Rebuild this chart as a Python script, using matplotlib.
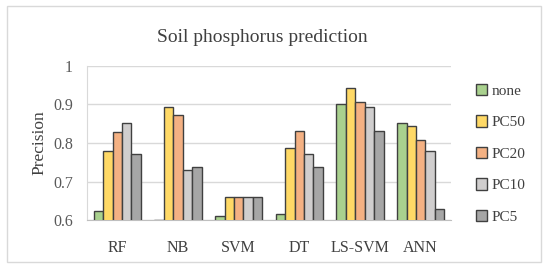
import matplotlib
matplotlib.use("Agg")
import matplotlib.pyplot as plt
import numpy as np
from matplotlib.patches import Rectangle

categories = ["RF", "NB", "SVM", "DT", "LS-SVM", "ANN"]
series_names = ["none", "PC50", "PC20", "PC10", "PC5"]
none_vals = [0.624, 0.600, 0.610, 0.616, 0.900, 0.851]
pc50_vals = [0.780, 0.893, 0.659, 0.787, 0.943, 0.844]
pc20_vals = [0.829, 0.872, 0.659, 0.830, 0.907, 0.808]
pc10_vals = [0.851, 0.730, 0.659, 0.772, 0.893, 0.780]
pc5_vals = [0.772, 0.737, 0.659, 0.737, 0.830, 0.630]
yticks = [0.6, 0.7, 0.8, 0.9, 1.0]
ytick_labels = ["0.6", "0.7", "0.8", "0.9", "1"]

colors = ["#A9D18E", "#FFD966", "#F4B183", "#D0CECE", "#A6A6A6"]
series = [none_vals, pc50_vals, pc20_vals, pc10_vals, pc5_vals]

plt.rcParams['font.family'] = ['Liberation Serif', 'DejaVu Serif']

fig = plt.figure(figsize=(5.5, 2.68), dpi=100)
fig.patches.append(Rectangle((7/550, 1-262/268), (541-7)/550, (262-6)/268,
                             transform=fig.transFigure, fill=False,
                             edgecolor="#D9D9D9", linewidth=1.0))
ax = fig.add_axes([87/550, 1-220.3/268, (451-87)/550, (220.3-65.7)/268])

x = np.arange(len(categories))
w = 0.155
for i, (vals, c, name) in enumerate(zip(series, colors, series_names)):
    ax.bar(x + (i - 2) * w, vals, width=w, color=c, edgecolor="#404040",
           linewidth=1.0, label=name, zorder=3)

ax.set_ylim(0.6, 1.0)
ax.set_xlim(-0.5, len(categories) - 0.5)
ax.set_yticks(yticks)
ax.set_yticklabels(ytick_labels, fontsize=11.5, color="#595959")
ax.set_xticks(x)
ax.set_xticklabels(categories, fontsize=11.5, color="#404040")
ax.tick_params(axis="x", length=0, pad=14)
ax.tick_params(axis="y", length=0, pad=10)
ax.yaxis.grid(True, color="#D9D9D9", linewidth=1.0, zorder=0)
ax.set_axisbelow(True)
for s in ["top", "right"]:
    ax.spines[s].set_visible(False)
ax.spines["left"].set_color("#D9D9D9")
ax.spines["bottom"].set_color("#BFBFBF")
ax.set_ylabel("Precision", fontsize=12.5, color="#404040", labelpad=4)

fig.text(0.477, 1 - 37/268, "Soil phosphorus prediction", ha="center", va="center",
         fontsize=14, color="#404040")

leg = ax.legend(loc="center left", bbox_to_anchor=(1.03, 0.43), frameon=False,
                fontsize=11, handlelength=0.75, handleheight=0.75,
                handletextpad=0.3, labelspacing=1.15, labelcolor="#404040")

fig.savefig("out.png", dpi=100)
